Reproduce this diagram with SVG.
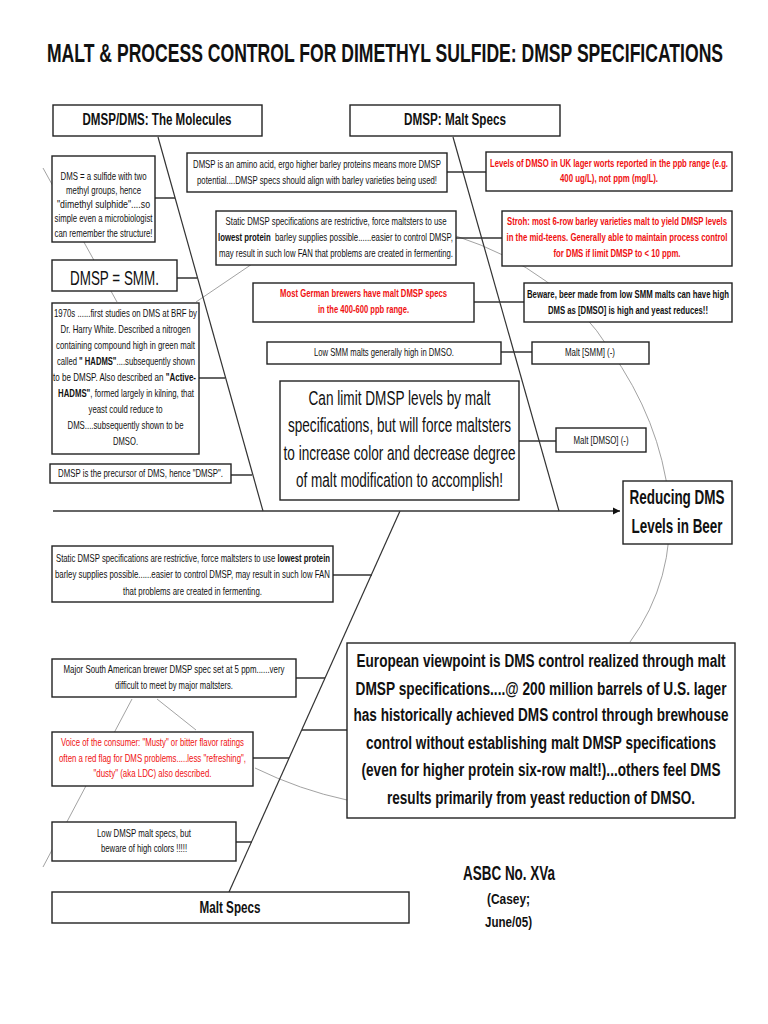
<svg xmlns="http://www.w3.org/2000/svg" width="768" height="1024" viewBox="0 0 768 1024">
<style>
.box{fill:#fff;stroke:#222;stroke-width:1.4}
.t{font-family:"Liberation Sans Narrow","Liberation Sans",Arial,sans-serif;text-anchor:middle;fill:#111}
.l{text-anchor:start}
.s{font-size:10.5px}
.r{fill:#f01010}
.b{font-weight:bold}
.conn{stroke:#333;stroke-width:1.5;fill:none}
.bone{stroke:#333;stroke-width:1.2;fill:none}
.arc{stroke:#8a8a8a;stroke-width:0.8;fill:none}
</style>
<defs>
<marker id="ah" viewBox="0 0 10 10" refX="10" refY="5" markerWidth="5" markerHeight="5" orient="auto" markerUnits="strokeWidth"><path d="M0,0 L10,5 L0,10 z" fill="#111"/></marker>
</defs>
<rect width="768" height="1024" fill="#fff"/>
<text class="t b" transform="translate(385,62) scale(0.72,1)" x="0" y="0" font-size="26" textLength="939" lengthAdjust="spacingAndGlyphs">MALT &amp; PROCESS CONTROL FOR DIMETHYL SULFIDE: DMSP SPECIFICATIONS</text>

<g id="connectors">
<path class="arc" d="M43,168 L117,302"/>
<path class="arc" d="M196,302 L255,262"/>
<path class="arc" d="M456,236 Q560,270 610,350 Q660,420 669,500 Q675,580 630,642"/>
<path class="arc" d="M255,768 Q300,790 347,800"/>
<path class="arc" d="M132,699 L43,867"/>
<path class="arc" d="M157,699 L196,730"/>
<line class="conn" x1="53" y1="511" x2="620" y2="511" stroke-width="2" marker-end="url(#ah)"/>
<line class="bone" x1="158" y1="137" x2="263" y2="511"/>
<line class="bone" x1="453" y1="137" x2="559" y2="511"/>
<line class="bone" x1="400" y1="511" x2="229" y2="892"/>
<line class="conn" x1="155" y1="198" x2="175" y2="198"/>
<line class="conn" x1="177" y1="278" x2="197" y2="278"/>
<line class="conn" x1="199" y1="378" x2="225" y2="378"/>
<line class="conn" x1="231" y1="475" x2="252" y2="475"/>
<line class="conn" x1="447" y1="172" x2="486" y2="172"/>
<line class="conn" x1="456" y1="238" x2="502" y2="238"/>
<line class="conn" x1="474" y1="302" x2="524" y2="302"/>
<line class="conn" x1="501" y1="352" x2="532" y2="352"/>
<line class="conn" x1="519" y1="441" x2="556" y2="441"/>
<line class="conn" x1="333" y1="575" x2="372" y2="575"/>
<line class="conn" x1="296" y1="678" x2="325" y2="678"/>
<line class="conn" x1="302" y1="730" x2="347" y2="730"/>
<line class="conn" x1="253" y1="758" x2="289" y2="758"/>
<line class="conn" x1="236" y1="842" x2="252" y2="842"/>
</g>

<g id="molecules">
<rect class="box" x="53" y="105" width="209" height="31"/>
<text class="t b" transform="translate(157,125) scale(0.55,1)" x="0" y="0" font-size="17" textLength="270.9" lengthAdjust="spacingAndGlyphs">DMSP/DMS: The Molecules</text>
</g>
<g id="maltspecs-top">
<rect class="box" x="350" y="105" width="210" height="31"/>
<text class="t b" transform="translate(455,125) scale(0.55,1)" x="0" y="0" font-size="17" textLength="185.5" lengthAdjust="spacingAndGlyphs">DMSP: Malt Specs</text>
</g>
<g id="dms-sulfide">
<rect class="box" x="52" y="156" width="103" height="86"/>
<text class="t s" transform="translate(103.5,179.5) scale(0.55,1)" x="0" y="0" textLength="156.4" lengthAdjust="spacingAndGlyphs">DMS = a sulfide with two</text>
<text class="t s" transform="translate(103.5,193.8) scale(0.55,1)" x="0" y="0" textLength="136.4" lengthAdjust="spacingAndGlyphs">methyl groups, hence</text>
<text class="t s" transform="translate(103.5,208.1) scale(0.55,1)" x="0" y="0" textLength="169.1" lengthAdjust="spacingAndGlyphs">"dimethyl sulphide"....so</text>
<text class="t s" transform="translate(103.5,222.4) scale(0.55,1)" x="0" y="0" textLength="178.2" lengthAdjust="spacingAndGlyphs">simple even a microbiologist</text>
<text class="t s" transform="translate(103.5,236.7) scale(0.55,1)" x="0" y="0" textLength="178.2" lengthAdjust="spacingAndGlyphs">can remember the structure!</text>
</g>
<g id="amino">
<rect class="box" x="187" y="153" width="260" height="39"/>
<text class="t s" transform="translate(317,168) scale(0.55,1)" x="0" y="0" textLength="450.9" lengthAdjust="spacingAndGlyphs">DMSP is an amino acid, ergo higher barley proteins means more DMSP</text>
<text class="t s" transform="translate(317,184) scale(0.55,1)" x="0" y="0" textLength="436.4" lengthAdjust="spacingAndGlyphs">potential....DMSP specs should align with barley varieties being used!</text>
</g>
<g id="levels">
<rect class="box" x="486" y="152" width="246" height="39"/>
<text class="t s b r" transform="translate(609,167) scale(0.55,1)" x="0" y="0" textLength="432.7" lengthAdjust="spacingAndGlyphs">Levels of DMSO in UK lager worts reported in the ppb range (e.g.</text>
<text class="t s b r" transform="translate(609,182) scale(0.55,1)" x="0" y="0" textLength="178.2" lengthAdjust="spacingAndGlyphs">400 ug/L), not ppm (mg/L).</text>
</g>
<g id="static-top">
<rect class="box" x="216" y="211" width="240" height="54"/>
<text class="t s" transform="translate(336,225) scale(0.55,1)" x="0" y="0" textLength="401.8" lengthAdjust="spacingAndGlyphs">Static DMSP specifications are restrictive, force maltsters to use</text>
<text class="t s b l" transform="translate(218,240.7) scale(0.55,1)" x="0" y="0" textLength="95.8" lengthAdjust="spacingAndGlyphs">lowest protein</text>
<text class="t s l" transform="translate(275,240.7) scale(0.55,1)" x="0" y="0" textLength="323.6" lengthAdjust="spacingAndGlyphs">barley supplies possible......easier to control DMSP,</text>
<text class="t s" transform="translate(336,256.7) scale(0.55,1)" x="0" y="0" textLength="425.5" lengthAdjust="spacingAndGlyphs">may result in such low FAN that problems are created in fermenting.</text>
</g>
<g id="stroh">
<rect class="box" x="502" y="211" width="230" height="55"/>
<text class="t s b r" transform="translate(617,225) scale(0.55,1)" x="0" y="0" textLength="400" lengthAdjust="spacingAndGlyphs">Stroh: most 6-row barley varieties malt to yield DMSP levels</text>
<text class="t s b r" transform="translate(617,241) scale(0.55,1)" x="0" y="0" textLength="401.8" lengthAdjust="spacingAndGlyphs">in the mid-teens. Generally able to maintain process control</text>
<text class="t s b r" transform="translate(617,257) scale(0.55,1)" x="0" y="0" textLength="230.9" lengthAdjust="spacingAndGlyphs">for DMS if limit DMSP to &lt; 10 ppm.</text>
</g>
<g id="dmsp-smm">
<rect class="box" x="52" y="260" width="125" height="31"/>
<text class="t" transform="translate(114.5,285) scale(0.55,1)" x="0" y="0" font-size="20" textLength="161.8" lengthAdjust="spacingAndGlyphs">DMSP = SMM.</text>
</g>
<g id="history">
<rect class="box" x="52" y="303" width="147" height="151"/>
<text class="t s" transform="translate(125.5,317.3) scale(0.55,1)" x="0" y="0" textLength="260" lengthAdjust="spacingAndGlyphs">1970s ......first studies on DMS at BRF by</text>
<text class="t s" transform="translate(125.5,333.2) scale(0.55,1)" x="0" y="0" textLength="236.4" lengthAdjust="spacingAndGlyphs">Dr. Harry White. Described a nitrogen</text>
<text class="t s" transform="translate(125.5,349.1) scale(0.55,1)" x="0" y="0" textLength="252.7" lengthAdjust="spacingAndGlyphs">containing compound high in green malt</text>
<text class="t s l" transform="translate(57,365) scale(0.55,1)" x="0" y="0" textLength="36.4" lengthAdjust="spacingAndGlyphs">called</text>
<text class="t s b l" transform="translate(79.1,365) scale(0.55,1)" x="0" y="0" textLength="68" lengthAdjust="spacingAndGlyphs">" HADMS"</text>
<text class="t s l" transform="translate(116.5,365) scale(0.55,1)" x="0" y="0" textLength="142.7" lengthAdjust="spacingAndGlyphs">....subsequently shown</text>
<text class="t s l" transform="translate(53,380.9) scale(0.55,1)" x="0" y="0" textLength="200.9" lengthAdjust="spacingAndGlyphs">to be DMSP. Also described an</text>
<text class="t s b l" transform="translate(165.7,380.9) scale(0.55,1)" x="0" y="0" textLength="55.1" lengthAdjust="spacingAndGlyphs">"Active-</text>
<text class="t s b l" transform="translate(58,396.8) scale(0.55,1)" x="0" y="0" textLength="58.7" lengthAdjust="spacingAndGlyphs">HADMS"</text>
<text class="t s l" transform="translate(90.3,396.8) scale(0.55,1)" x="0" y="0" textLength="188.5" lengthAdjust="spacingAndGlyphs">, formed largely in kilning, that</text>
<text class="t s" transform="translate(125.5,412.7) scale(0.55,1)" x="0" y="0" textLength="134.5" lengthAdjust="spacingAndGlyphs">yeast could reduce to</text>
<text class="t s" transform="translate(125.5,428.6) scale(0.55,1)" x="0" y="0" textLength="210.9" lengthAdjust="spacingAndGlyphs">DMS....subsequently shown to be</text>
<text class="t s" transform="translate(125.5,444.5) scale(0.55,1)" x="0" y="0" textLength="45.5" lengthAdjust="spacingAndGlyphs">DMSO.</text>
</g>
<g id="precursor">
<rect class="box" x="50" y="464" width="181" height="19"/>
<text class="t s" transform="translate(140.5,477) scale(0.55,1)" x="0" y="0" textLength="300" lengthAdjust="spacingAndGlyphs">DMSP is the precursor of DMS, hence "DMSP".</text>
</g>
<g id="german">
<rect class="box" x="253" y="283" width="221" height="39"/>
<text class="t s b r" transform="translate(363.5,297) scale(0.55,1)" x="0" y="0" textLength="303.6" lengthAdjust="spacingAndGlyphs">Most German brewers have malt DMSP specs</text>
<text class="t s b r" transform="translate(363.5,313) scale(0.55,1)" x="0" y="0" textLength="165.5" lengthAdjust="spacingAndGlyphs">in the 400-600 ppb range.</text>
</g>
<g id="beware">
<rect class="box" x="524" y="283" width="208" height="39"/>
<text class="t s b" transform="translate(628,298) scale(0.55,1)" x="0" y="0" textLength="367.3" lengthAdjust="spacingAndGlyphs">Beware, beer made from low SMM malts can have high</text>
<text class="t s b" transform="translate(628,314) scale(0.55,1)" x="0" y="0" textLength="290.9" lengthAdjust="spacingAndGlyphs">DMS as [DMSO] is high and yeast reduces!!</text>
</g>
<g id="low-smm">
<rect class="box" x="267" y="342" width="234" height="22"/>
<text class="t s" transform="translate(384,355.7) scale(0.55,1)" x="0" y="0" textLength="254.5" lengthAdjust="spacingAndGlyphs">Low SMM malts generally high in DMSO.</text>
</g>
<g id="malt-smm">
<rect class="box" x="532" y="342" width="117" height="22"/>
<text class="t s" transform="translate(590,355.7) scale(0.55,1)" x="0" y="0" textLength="90.9" lengthAdjust="spacingAndGlyphs">Malt [SMM] (-)</text>
</g>
<g id="can-limit">
<rect class="box" x="280" y="381" width="239" height="119"/>
<text class="t" transform="translate(399.5,405) scale(0.55,1)" x="0" y="0" font-size="19.5" textLength="330.9" lengthAdjust="spacingAndGlyphs">Can limit DMSP levels by malt</text>
<text class="t" transform="translate(399.5,432) scale(0.55,1)" x="0" y="0" font-size="19.5" textLength="405.5" lengthAdjust="spacingAndGlyphs">specifications, but will force maltsters</text>
<text class="t" transform="translate(399.5,459.7) scale(0.55,1)" x="0" y="0" font-size="19.5" textLength="421.8" lengthAdjust="spacingAndGlyphs">to increase color and decrease degree</text>
<text class="t" transform="translate(399.5,487) scale(0.55,1)" x="0" y="0" font-size="19.5" textLength="376.4" lengthAdjust="spacingAndGlyphs">of malt modification to accomplish!</text>
</g>
<g id="malt-dmso">
<rect class="box" x="556" y="428" width="90" height="24"/>
<text class="t s" transform="translate(601,443.7) scale(0.55,1)" x="0" y="0" textLength="100" lengthAdjust="spacingAndGlyphs">Malt [DMSO] (-)</text>
</g>
<g id="effect">
<rect class="box" x="623" y="481" width="109" height="63" stroke-width="2.5"/>
<text class="t b" transform="translate(677,504) scale(0.55,1)" x="0" y="0" font-size="20" textLength="172.7" lengthAdjust="spacingAndGlyphs">Reducing DMS</text>
<text class="t b" transform="translate(677,533) scale(0.55,1)" x="0" y="0" font-size="20" textLength="165.5" lengthAdjust="spacingAndGlyphs">Levels in Beer</text>
</g>
<g id="static-bottom">
<rect class="box" x="52" y="546" width="281" height="56"/>
<text class="t s l" transform="translate(56,562) scale(0.55,1)" x="0" y="0" textLength="398.7" lengthAdjust="spacingAndGlyphs">Static DMSP specifications are restrictive, force maltsters to use</text>
<text class="t s b l" transform="translate(277.5,562) scale(0.55,1)" x="0" y="0" textLength="95.5" lengthAdjust="spacingAndGlyphs">lowest protein</text>
<text class="t s" transform="translate(192.5,578) scale(0.55,1)" x="0" y="0" textLength="500" lengthAdjust="spacingAndGlyphs">barley supplies possible......easier to control DMSP, may result in such low FAN</text>
<text class="t s" transform="translate(192.5,595) scale(0.55,1)" x="0" y="0" textLength="252.7" lengthAdjust="spacingAndGlyphs">that problems are created in fermenting.</text>
</g>
<g id="south-america">
<rect class="box" x="52" y="659" width="244" height="38"/>
<text class="t s" transform="translate(174,673) scale(0.55,1)" x="0" y="0" textLength="401.8" lengthAdjust="spacingAndGlyphs">Major South American brewer  DMSP spec set at 5 ppm......very</text>
<text class="t s" transform="translate(174,689) scale(0.55,1)" x="0" y="0" textLength="214.5" lengthAdjust="spacingAndGlyphs">difficult to meet by major maltsters.</text>
</g>
<g id="consumer">
<rect class="box" x="52" y="732" width="201" height="54"/>
<text class="t s r" transform="translate(152.5,746) scale(0.55,1)" x="0" y="0" textLength="332.7" lengthAdjust="spacingAndGlyphs">Voice of the consumer: "Musty" or bitter flavor ratings</text>
<text class="t s r" transform="translate(152.5,762) scale(0.55,1)" x="0" y="0" textLength="340" lengthAdjust="spacingAndGlyphs">often a red flag for DMS problems.....less "refreshing",</text>
<text class="t s r" transform="translate(152.5,777) scale(0.55,1)" x="0" y="0" textLength="214.5" lengthAdjust="spacingAndGlyphs">"dusty" (aka LDC) also described.</text>
</g>
<g id="low-dmsp">
<rect class="box" x="52" y="822" width="184" height="39"/>
<text class="t s" transform="translate(144,837) scale(0.55,1)" x="0" y="0" textLength="170.9" lengthAdjust="spacingAndGlyphs">Low DMSP malt specs, but</text>
<text class="t s" transform="translate(144,852) scale(0.55,1)" x="0" y="0" textLength="156.4" lengthAdjust="spacingAndGlyphs">beware of high colors !!!!!</text>
</g>
<g id="maltspecs-bottom">
<rect class="box" x="52" y="892" width="357" height="31"/>
<text class="t b" transform="translate(230,913) scale(0.55,1)" x="0" y="0" font-size="17" textLength="110.9" lengthAdjust="spacingAndGlyphs">Malt Specs</text>
</g>
<g id="european">
<rect class="box" x="347" y="643" width="388" height="175"/>
<text class="t b" transform="translate(541,667) scale(0.55,1)" x="0" y="0" font-size="19" textLength="670.9" lengthAdjust="spacingAndGlyphs">European viewpoint is DMS control realized through malt</text>
<text class="t b" transform="translate(541,695) scale(0.55,1)" x="0" y="0" font-size="19" textLength="674.5" lengthAdjust="spacingAndGlyphs">DMSP specifications....@ 200 million barrels of U.S. lager</text>
<text class="t b" transform="translate(541,721) scale(0.55,1)" x="0" y="0" font-size="19" textLength="681.8" lengthAdjust="spacingAndGlyphs">has historically achieved DMS control through brewhouse</text>
<text class="t b" transform="translate(541,749) scale(0.55,1)" x="0" y="0" font-size="19" textLength="636.4" lengthAdjust="spacingAndGlyphs">control without establishing malt DMSP specifications</text>
<text class="t b" transform="translate(541,776) scale(0.55,1)" x="0" y="0" font-size="19" textLength="652.7" lengthAdjust="spacingAndGlyphs">(even for higher protein six-row malt!)...others feel DMS</text>
<text class="t b" transform="translate(541,804) scale(0.55,1)" x="0" y="0" font-size="19" textLength="560" lengthAdjust="spacingAndGlyphs">results primarily from yeast reduction of DMSO.</text>
</g>
<g id="credit">
<text class="t b" transform="translate(509,880) scale(0.55,1)" x="0" y="0" font-size="20" textLength="167.3" lengthAdjust="spacingAndGlyphs">ASBC No. XVa</text>
<text class="t b" transform="translate(508.5,904) scale(0.55,1)" x="0" y="0" font-size="15" textLength="78.2" lengthAdjust="spacingAndGlyphs">(Casey;</text>
<text class="t b" transform="translate(508.5,927) scale(0.55,1)" x="0" y="0" font-size="15" textLength="85.5" lengthAdjust="spacingAndGlyphs">June/05)</text>
</g>
</svg>
